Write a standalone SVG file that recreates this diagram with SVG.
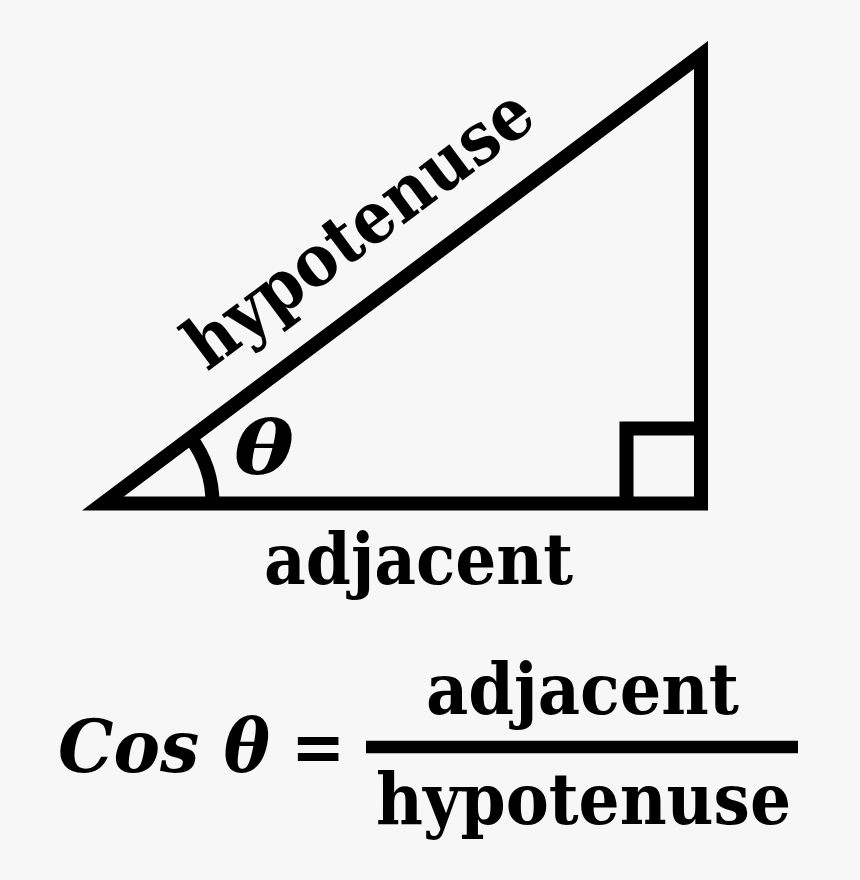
<svg xmlns="http://www.w3.org/2000/svg" width="860" height="880" viewBox="0 0 860 880">
<style>
.t{font-family:"DejaVu Serif","Liberation Serif",serif;font-weight:bold;fill:#000;font-stretch:condensed}
.i{font-style:italic}
.ln{fill:none;stroke:#000;stroke-width:14}
</style>
<rect width="860" height="880" fill="#f7f7f7"/>
<g id="triangle">
<polygon class="ln" points="103,503.5 701,503.5 701,55" stroke-linejoin="miter"/>
</g>
<g id="right-angle">
<polyline class="ln" points="626.5,503.5 626.5,428.5 701,428.5"/>
</g>
<g id="angle-arc">
<path class="ln" d="M212.5,503.5 A109.5,109.5 0 0 0 190.6,437.8"/>
</g>
<g id="theta-label">
<text class="t i" x="234" y="473.5" font-size="72" style="font-stretch:normal" textLength="60" lengthAdjust="spacingAndGlyphs">θ</text>
</g>
<g id="hypotenuse-label">
<text class="t" font-size="71" transform="translate(207,372) rotate(-36.87)" x="0" y="0" textLength="415" lengthAdjust="spacingAndGlyphs">hypotenuse</text>
</g>
<g id="adjacent-label">
<text class="t" x="264" y="584" font-size="71" textLength="309" lengthAdjust="spacingAndGlyphs">adjacent</text>
</g>
<g id="formula">
<text class="t i" x="58" y="771.5" font-size="72" textLength="212" lengthAdjust="spacingAndGlyphs">Cos θ</text>
<text class="t" x="291" y="771.5" font-size="72">=</text>
<text class="t" x="426" y="714" font-size="71" textLength="313" lengthAdjust="spacingAndGlyphs">adjacent</text>
<line x1="366" y1="747" x2="798" y2="747" stroke="#000" stroke-width="12.6"/>
<text class="t" x="376" y="824" font-size="71" textLength="415" lengthAdjust="spacingAndGlyphs">hypotenuse</text>
</g>
</svg>
